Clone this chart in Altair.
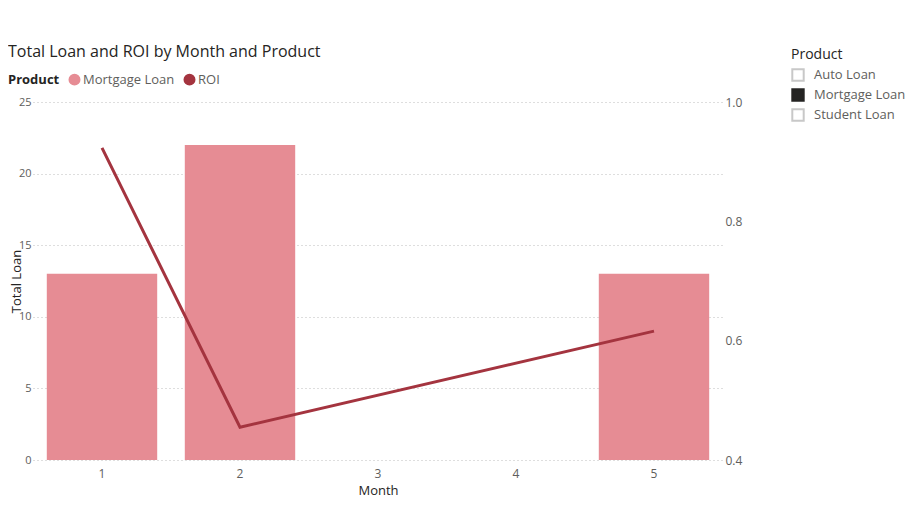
import altair as alt
import pandas as pd

months = [1, 2, 3, 4, 5]
loan_months = [1, 2, 5]
total_loan = [13, 22, 13]
roi_months = [1, 2, 5]
roi_values = [0.923, 0.455, 0.616]
series = ["Mortgage Loan", "ROI"]
series_colors = ["#E68C94", "#A4343F"]
products = ["Auto Loan", "Mortgage Loan", "Student Loan"]
product_fill = ["#FFFFFF", "#252423", "#FFFFFF"]
product_stroke = ["#C8C8C8", "#252423", "#C8C8C8"]
left_ticks = [0, 5, 10, 15, 20, 25]
right_ticks = [0.4, 0.6, 0.8, 1.0]

FONT = "Open Sans"
LABEL = "#605E5C"
DARK = "#252423"

bars_df = pd.DataFrame({"Month": loan_months, "Total Loan": total_loan,
                        "Series": [series[0]] * len(loan_months)})
roi_df = pd.DataFrame({"Month": roi_months, "ROI": roi_values,
                       "Series": [series[1]] * len(roi_months)})
prod_df = pd.DataFrame({"Product": products})

x_scale = alt.Scale(domain=months, paddingInner=0.2, paddingOuter=0.1)
color_scale = alt.Scale(domain=series, range=series_colors)

x_axis = alt.Axis(title="Month", labelAngle=0, domain=False, ticks=False,
                  labelColor=LABEL, labelFontSize=12, labelPadding=8,
                  titleColor=DARK, titleFontSize=13, titlePadding=5,
                  titleFontWeight="normal", labelFont=FONT, titleFont=FONT)

top_legend = alt.Legend(orient="none", legendX=-25, legendY=-29, direction="horizontal",
                        title="Product", titleOrient="left", titleFontWeight="bold",
                        titleFontSize=13, titleColor=DARK, titleFont=FONT,
                        labelFont=FONT, labelFontSize=13, labelColor=LABEL,
                        symbolType="circle", symbolSize=110, columnPadding=6,
                        labelOffset=2, titlePadding=8)

bars = alt.Chart(bars_df).mark_bar().encode(
    x=alt.X("Month:O", scale=x_scale, axis=x_axis),
    y=alt.Y("Total Loan:Q", scale=alt.Scale(domain=[0, 25], nice=False),
            axis=alt.Axis(values=left_ticks, title="Total Loan", domain=False, ticks=False,
                          grid=True, gridColor="#BDBDBD", gridDash=[1, 3], gridWidth=1,
                          labelColor=LABEL, labelFontSize=11, labelPadding=2, labelFont=FONT,
                          titleColor=DARK, titleFontSize=13, titleFontWeight="normal",
                          titleFont=FONT, titleX=-17, titleY=179, titleAngle=270,
                          titleAlign="center", titleBaseline="middle")),
    color=alt.Color("Series:N", scale=color_scale, legend=top_legend),
)

line = alt.Chart(roi_df).mark_line(strokeWidth=3).encode(
    x=alt.X("Month:O", scale=x_scale, bandPosition=0.5, axis=x_axis),
    y=alt.Y("ROI:Q", scale=alt.Scale(domain=[0.4, 1.0], nice=False, zero=False),
            axis=alt.Axis(orient="right", values=right_ticks, format=".1f", title=None,
                          domain=False, ticks=False, grid=False,
                          labelColor=LABEL, labelFontSize=12, labelPadding=2, labelFont=FONT)),
    color=alt.Color("Series:N", scale=color_scale, legend=None),
)

slicer_legend = alt.Legend(orient="none", legendX=758, legendY=-54, title="Product",
                           titleFontSize=14, titleColor=DARK, titleFontWeight="normal",
                           titleFont=FONT, titlePadding=6,
                           labelFont=FONT, labelFontSize=13, labelColor=LABEL,
                           symbolType="square", symbolSize=130, symbolStrokeWidth=2,
                           rowPadding=0, labelOffset=9)

slicer = alt.Chart(prod_df).mark_point(shape="square", size=0, filled=True, opacity=1).encode(
    fill=alt.Fill("Product:N", scale=alt.Scale(domain=products, range=product_fill),
                  legend=slicer_legend),
    stroke=alt.Stroke("Product:N", scale=alt.Scale(domain=products, range=product_stroke),
                      legend=slicer_legend),
)

chart = alt.layer(bars, line, slicer).resolve_scale(y="independent").properties(
    width=690, height=358,
    background="white",
    autosize=alt.AutoSizeParams(type="none"),
    padding={"left": 25, "top": 94, "right": 188, "bottom": 45},
    title=alt.TitleParams("Total Loan and ROI by Month and Product", anchor="start",
                          frame="group", dx=-25, dy=12, fontSize=16, font=FONT,
                          color=DARK, fontWeight="normal", offset=0),
).configure_view(stroke=None)

chart.save("out.html", embed_options={"renderer": "svg", "actions": False})
